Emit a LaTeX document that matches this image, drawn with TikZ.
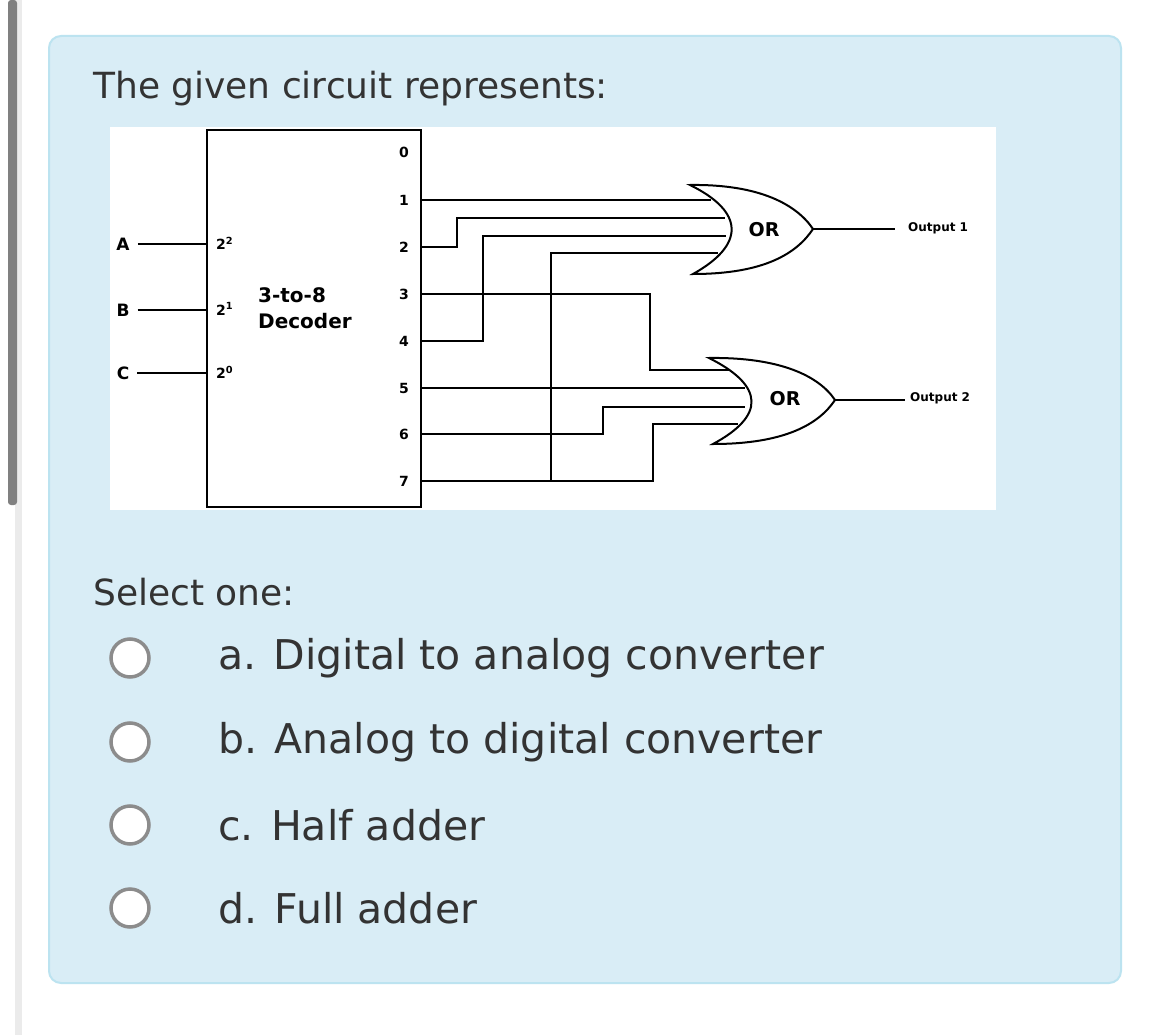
\documentclass[tikz,border=0pt]{standalone}
\usepackage{fontspec}
\setmainfont{DejaVu Sans}
\begin{document}
\begin{tikzpicture}[x=1pt,y=-1pt,
  txt/.style={anchor=west,inner sep=0pt,text=black!80},
  big/.style={font=\fontsize{36}{42}\selectfont},
  opt/.style={font=\fontsize{41}{48}\selectfont},
  radio/.style={circle,draw=black!45,line width=3.5pt,fill=white,minimum size=38pt,inner sep=0pt},
  wire/.style={line width=2pt},
  lbl/.style={inner sep=0pt,font=\bfseries\fontsize{13}{15}\selectfont},
  gate/.style={line width=2pt,fill=white}]
\definecolor{panel}{HTML}{D9EDF6}
\definecolor{panelb}{HTML}{BCE3F0}
\useasboundingbox (0,0) rectangle (1170,1035);
\fill[white] (0,0) rectangle (1170,1035);
\fill[black!8] (15,0) rectangle (22,1035);
\fill[black!50,rounded corners=3pt] (8,0) rectangle (17,505);
\draw[panelb,fill=panel,line width=2pt,rounded corners=12pt] (49,36) rectangle (1121,983);
\node[txt,big] (title) at (93,89) {The given circuit represents:};
\fill[white] (110,127) rectangle (996,510);
% decoder
\draw[line width=2pt] (207,130) rectangle (421,507);
\node[lbl,font=\bfseries\fontsize{20}{26}\selectfont,align=left,anchor=west] (dec) at (258,308) {3-to-8\\Decoder};
\foreach \n/\y/\l in {A/244/2,B/310/1,C/373/0}{
  \node[lbl,font=\bfseries\fontsize{17}{18}\selectfont] (in\n) at (123,\y) {\n};
  \coordinate (p\n) at (207,\y);
  \draw[wire] (in\n.east)+(8,0) -- (p\n);
  \node[lbl,anchor=west,font=\bfseries\fontsize{14}{16}\selectfont] at (216,\y-1) {2$^{\mathbf{\l}}$};
}
\foreach \i/\y in {0/152,1/200,2/247,3/294,4/341,5/388,6/434,7/481}{
  \coordinate (o\i) at (421,\y);
  \node[lbl,font=\bfseries\fontsize{14}{16}\selectfont] at (404,\y) {\i};
}
% OR gates
\draw[gate] (690,185) .. controls (760,184) and (797,205) .. (813,229)
  .. controls (797,253) and (765,274) .. (693,274)
  .. controls (745,245) and (745,212) .. cycle;
\node[lbl,font=\bfseries\fontsize{19}{22}\selectfont] (or1) at (764,230) {OR};
\draw[gate] (709,358) .. controls (780,357) and (819,376) .. (835,400)
  .. controls (819,424) and (785,444) .. (713,444)
  .. controls (765,416) and (765,386) .. cycle;
\node[lbl,font=\bfseries\fontsize{19}{22}\selectfont] (or2) at (785,399) {OR};
\coordinate (y1) at (813,229);
\coordinate (y2) at (835,400);
\node[lbl,anchor=west,font=\bfseries\fontsize{12}{14}\selectfont] (out1) at (908,228) {Output 1};
\node[lbl,anchor=west,font=\bfseries\fontsize{12}{14}\selectfont] (out2) at (910,398) {Output 2};
\draw[wire] (y1) -- (895,229);
\draw[wire] (y2) -- (905,400);
% wires to gate 1
\draw[wire] (o1) -- (711,200);
\draw[wire] (o2) -- (457,247) |- (725,218);
\draw[wire] (o4) -- (483,341) |- (726,236);
\draw[wire] (o7) -- (551,481) |- (718,253);
% wires to gate 2
\draw[wire] (o3) -- (650,294) |- (730,370);
\draw[wire] (o5) -- (745,388);
\draw[wire] (o6) -- (603,434) |- (745,407);
\draw[wire] (551,481) -- (653,481) |- (738,424);
% options
\node[txt,big] (sel) at (93,592) {Select one:};
\foreach \k/\y/\t in {a/658/a. Digital to analog converter,b/742/b. Analog to digital converter,c/825/c. Half adder,d/908/d. Full adder}{
  \node[radio] (r\k) at (130,\y) {};
  \node[txt,opt] (t\k) at (218,\y) {\t};
}
\end{tikzpicture}
\end{document}
